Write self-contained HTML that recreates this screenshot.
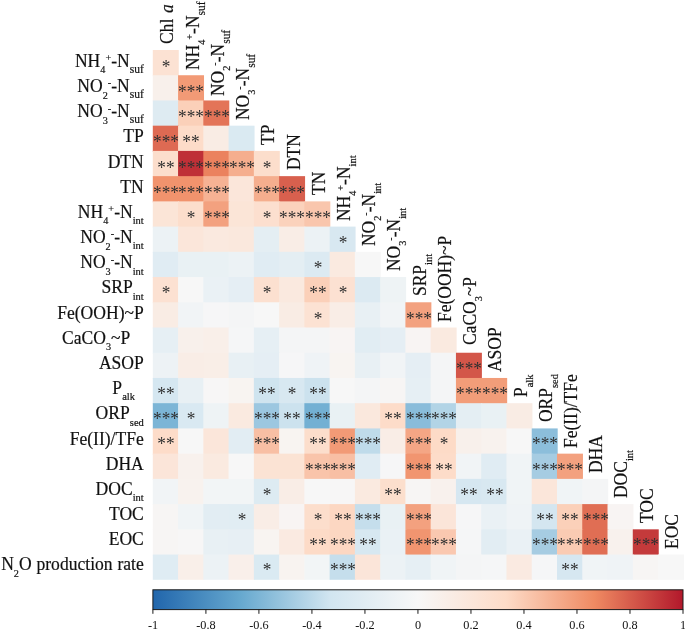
<!DOCTYPE html>
<html><head><meta charset="utf-8"><title>Correlation heatmap</title>
<style>
html,body{margin:0;padding:0;background:#fff;}
#fig{position:relative;width:685px;height:630px;overflow:hidden;background:#fff;font-family:"Liberation Serif",serif;color:#111;}
.c{position:absolute;}
.s{position:absolute;text-align:center;font-size:19.8px;line-height:0;white-space:nowrap;color:#303030;transform:scaleX(0.875);}
.l,.t{-webkit-text-stroke:0.2px #111;}
.l{position:absolute;white-space:nowrap;font-size:18.9px;line-height:0;text-align:right;transform-origin:100% 0;transform:scaleX(0.93);}
.t{position:absolute;white-space:nowrap;font-size:18.9px;line-height:0;transform-origin:0 0;transform:rotate(-90deg) scaleX(0.925);}
sub,sup{font-size:12.4px;line-height:0;position:relative;vertical-align:baseline;}
sub{top:6.2px;}
sub.d{font-size:11px;top:6.4px;}
sub.e{font-size:11.3px;}
sup{top:-5.7px;font-size:11px;}
.k{position:absolute;font-size:13.2px;line-height:0;white-space:nowrap;transform:translateX(-50%) scaleX(0.93);}
.tk{position:absolute;width:1px;background:#111;}
</style></head><body><div id="fig">

<svg class="c" style="left:0;top:0" width="685" height="630" viewBox="0 0 685 630">
<rect x="152.80" y="50.00" width="25.96" height="26.23" fill="#fce2d3"/>
<rect x="152.80" y="75.23" width="26.26" height="26.23" fill="#f8f0eb"/>
<rect x="178.06" y="75.23" width="25.96" height="26.23" fill="#f29a76"/>
<rect x="152.80" y="100.46" width="26.26" height="26.23" fill="#deebf2"/>
<rect x="178.06" y="100.46" width="26.26" height="26.23" fill="#fbd0b9"/>
<rect x="203.32" y="100.46" width="25.96" height="26.23" fill="#e37458"/>
<rect x="152.80" y="125.68" width="26.26" height="26.23" fill="#de6a53"/>
<rect x="178.06" y="125.68" width="26.26" height="26.23" fill="#fddcc9"/>
<rect x="203.32" y="125.68" width="26.26" height="26.23" fill="#f9ece4"/>
<rect x="228.59" y="125.68" width="25.96" height="26.23" fill="#daeaf2"/>
<rect x="152.80" y="150.91" width="26.26" height="26.23" fill="#fcdecc"/>
<rect x="178.06" y="150.91" width="26.26" height="26.23" fill="#bf3037"/>
<rect x="203.32" y="150.91" width="26.26" height="26.23" fill="#eb825e"/>
<rect x="228.59" y="150.91" width="26.26" height="26.23" fill="#f5ae8e"/>
<rect x="253.85" y="150.91" width="25.96" height="26.23" fill="#fcdecc"/>
<rect x="152.80" y="176.14" width="26.26" height="26.23" fill="#f1936d"/>
<rect x="178.06" y="176.14" width="26.26" height="26.23" fill="#f1936d"/>
<rect x="203.32" y="176.14" width="26.26" height="26.23" fill="#f6b294"/>
<rect x="228.59" y="176.14" width="26.26" height="26.23" fill="#fbe6da"/>
<rect x="253.85" y="176.14" width="26.26" height="26.23" fill="#f5ae8e"/>
<rect x="279.11" y="176.14" width="25.96" height="26.23" fill="#d8604e"/>
<rect x="152.80" y="201.37" width="26.26" height="26.23" fill="#fbe5d7"/>
<rect x="178.06" y="201.37" width="26.26" height="26.23" fill="#fcdecc"/>
<rect x="203.32" y="201.37" width="26.26" height="26.23" fill="#f3a17f"/>
<rect x="228.59" y="201.37" width="26.26" height="26.23" fill="#fbe5d7"/>
<rect x="253.85" y="201.37" width="26.26" height="26.23" fill="#fcdfcf"/>
<rect x="279.11" y="201.37" width="26.26" height="26.23" fill="#fbd2bc"/>
<rect x="304.37" y="201.37" width="25.96" height="26.23" fill="#f9c6ad"/>
<rect x="152.80" y="226.60" width="26.26" height="26.23" fill="#ecf2f5"/>
<rect x="178.06" y="226.60" width="26.26" height="26.23" fill="#fbe6da"/>
<rect x="203.32" y="226.60" width="26.26" height="26.23" fill="#fae9df"/>
<rect x="228.59" y="226.60" width="26.26" height="26.23" fill="#fae8dd"/>
<rect x="253.85" y="226.60" width="26.26" height="26.23" fill="#e4eef3"/>
<rect x="279.11" y="226.60" width="26.26" height="26.23" fill="#f9ede6"/>
<rect x="304.37" y="226.60" width="26.26" height="26.23" fill="#ecf2f5"/>
<rect x="329.63" y="226.60" width="25.96" height="26.23" fill="#d8e8f1"/>
<rect x="152.80" y="251.82" width="26.26" height="26.23" fill="#e0ecf3"/>
<rect x="178.06" y="251.82" width="26.26" height="26.23" fill="#e9f1f4"/>
<rect x="203.32" y="251.82" width="26.26" height="26.23" fill="#e9f1f4"/>
<rect x="228.59" y="251.82" width="26.26" height="26.23" fill="#ecf2f5"/>
<rect x="253.85" y="251.82" width="26.26" height="26.23" fill="#e0ecf3"/>
<rect x="279.11" y="251.82" width="26.26" height="26.23" fill="#e4eef3"/>
<rect x="304.37" y="251.82" width="26.26" height="26.23" fill="#dceaf2"/>
<rect x="329.63" y="251.82" width="26.26" height="26.23" fill="#faeae0"/>
<rect x="354.90" y="251.82" width="25.96" height="26.23" fill="#f7f7f7"/>
<rect x="152.80" y="277.05" width="26.26" height="26.23" fill="#fce1d2"/>
<rect x="178.06" y="277.05" width="26.26" height="26.23" fill="#f7f7f7"/>
<rect x="203.32" y="277.05" width="26.26" height="26.23" fill="#eaf1f5"/>
<rect x="228.59" y="277.05" width="26.26" height="26.23" fill="#e5eef4"/>
<rect x="253.85" y="277.05" width="26.26" height="26.23" fill="#fce0d0"/>
<rect x="279.11" y="277.05" width="26.26" height="26.23" fill="#fae9df"/>
<rect x="304.37" y="277.05" width="26.26" height="26.23" fill="#fbd0b9"/>
<rect x="329.63" y="277.05" width="26.26" height="26.23" fill="#fce1d2"/>
<rect x="354.90" y="277.05" width="26.26" height="26.23" fill="#dceaf2"/>
<rect x="380.16" y="277.05" width="25.96" height="26.23" fill="#eef3f5"/>
<rect x="152.80" y="302.28" width="26.26" height="26.23" fill="#f9ece4"/>
<rect x="178.06" y="302.28" width="26.26" height="26.23" fill="#f1f4f6"/>
<rect x="203.32" y="302.28" width="26.26" height="26.23" fill="#f6f6f7"/>
<rect x="228.59" y="302.28" width="26.26" height="26.23" fill="#f4f5f6"/>
<rect x="253.85" y="302.28" width="26.26" height="26.23" fill="#f7f7f7"/>
<rect x="279.11" y="302.28" width="26.26" height="26.23" fill="#f9ece4"/>
<rect x="304.37" y="302.28" width="26.26" height="26.23" fill="#fce2d3"/>
<rect x="329.63" y="302.28" width="26.26" height="26.23" fill="#f9ede6"/>
<rect x="354.90" y="302.28" width="26.26" height="26.23" fill="#e8f0f4"/>
<rect x="380.16" y="302.28" width="26.26" height="26.23" fill="#f1f4f6"/>
<rect x="405.42" y="302.28" width="25.96" height="26.23" fill="#f3a17f"/>
<rect x="152.80" y="327.51" width="26.26" height="26.23" fill="#e6eff4"/>
<rect x="178.06" y="327.51" width="26.26" height="26.23" fill="#f8f0eb"/>
<rect x="203.32" y="327.51" width="26.26" height="26.23" fill="#f9efe9"/>
<rect x="228.59" y="327.51" width="26.26" height="26.23" fill="#f5f6f7"/>
<rect x="253.85" y="327.51" width="26.26" height="26.23" fill="#e6eff4"/>
<rect x="279.11" y="327.51" width="26.26" height="26.23" fill="#f4f5f6"/>
<rect x="304.37" y="327.51" width="26.26" height="26.23" fill="#f4f5f6"/>
<rect x="329.63" y="327.51" width="26.26" height="26.23" fill="#f8f4f3"/>
<rect x="354.90" y="327.51" width="26.26" height="26.23" fill="#e1edf3"/>
<rect x="380.16" y="327.51" width="26.26" height="26.23" fill="#e5eef4"/>
<rect x="405.42" y="327.51" width="26.26" height="26.23" fill="#f8f4f3"/>
<rect x="430.68" y="327.51" width="25.96" height="26.23" fill="#faeae0"/>
<rect x="152.80" y="352.74" width="26.26" height="26.23" fill="#edf2f5"/>
<rect x="178.06" y="352.74" width="26.26" height="26.23" fill="#f9ede6"/>
<rect x="203.32" y="352.74" width="26.26" height="26.23" fill="#f9eee7"/>
<rect x="228.59" y="352.74" width="26.26" height="26.23" fill="#e8f0f4"/>
<rect x="253.85" y="352.74" width="26.26" height="26.23" fill="#e5eef4"/>
<rect x="279.11" y="352.74" width="26.26" height="26.23" fill="#f6f6f7"/>
<rect x="304.37" y="352.74" width="26.26" height="26.23" fill="#eff3f6"/>
<rect x="329.63" y="352.74" width="26.26" height="26.23" fill="#f8f4f1"/>
<rect x="354.90" y="352.74" width="26.26" height="26.23" fill="#e8f0f4"/>
<rect x="380.16" y="352.74" width="26.26" height="26.23" fill="#f1f4f6"/>
<rect x="405.42" y="352.74" width="26.26" height="26.23" fill="#e5eef4"/>
<rect x="430.68" y="352.74" width="26.26" height="26.23" fill="#f4f5f6"/>
<rect x="455.94" y="352.74" width="25.96" height="26.23" fill="#d35649"/>
<rect x="152.80" y="377.96" width="26.26" height="26.23" fill="#d5e7f1"/>
<rect x="178.06" y="377.96" width="26.26" height="26.23" fill="#e8f0f4"/>
<rect x="203.32" y="377.96" width="26.26" height="26.23" fill="#f7f6f6"/>
<rect x="228.59" y="377.96" width="26.26" height="26.23" fill="#f8f4f1"/>
<rect x="253.85" y="377.96" width="26.26" height="26.23" fill="#cfe4ef"/>
<rect x="279.11" y="377.96" width="26.26" height="26.23" fill="#d8e8f1"/>
<rect x="304.37" y="377.96" width="26.26" height="26.23" fill="#cce2ee"/>
<rect x="329.63" y="377.96" width="26.26" height="26.23" fill="#f7f7f7"/>
<rect x="354.90" y="377.96" width="26.26" height="26.23" fill="#f4f5f6"/>
<rect x="380.16" y="377.96" width="26.26" height="26.23" fill="#f7f5f4"/>
<rect x="405.42" y="377.96" width="26.26" height="26.23" fill="#e6eff4"/>
<rect x="430.68" y="377.96" width="26.26" height="26.23" fill="#f4f5f6"/>
<rect x="455.94" y="377.96" width="26.26" height="26.23" fill="#f29d79"/>
<rect x="481.21" y="377.96" width="25.96" height="26.23" fill="#f29d79"/>
<rect x="152.80" y="403.19" width="26.26" height="26.23" fill="#7cb5d6"/>
<rect x="178.06" y="403.19" width="26.26" height="26.23" fill="#d9e9f2"/>
<rect x="203.32" y="403.19" width="26.26" height="26.23" fill="#eef3f5"/>
<rect x="228.59" y="403.19" width="26.26" height="26.23" fill="#faeae0"/>
<rect x="253.85" y="403.19" width="26.26" height="26.23" fill="#9cc7e0"/>
<rect x="279.11" y="403.19" width="26.26" height="26.23" fill="#cce2ee"/>
<rect x="304.37" y="403.19" width="26.26" height="26.23" fill="#73b0d3"/>
<rect x="329.63" y="403.19" width="26.26" height="26.23" fill="#e9f1f4"/>
<rect x="354.90" y="403.19" width="26.26" height="26.23" fill="#fae8dd"/>
<rect x="380.16" y="403.19" width="26.26" height="26.23" fill="#fddcc9"/>
<rect x="405.42" y="403.19" width="26.26" height="26.23" fill="#89bcda"/>
<rect x="430.68" y="403.19" width="26.26" height="26.23" fill="#b2d4e6"/>
<rect x="455.94" y="403.19" width="26.26" height="26.23" fill="#e4eef3"/>
<rect x="481.21" y="403.19" width="26.26" height="26.23" fill="#e9f1f4"/>
<rect x="506.47" y="403.19" width="25.96" height="26.23" fill="#f9ece4"/>
<rect x="152.80" y="428.42" width="26.26" height="26.23" fill="#fddcc9"/>
<rect x="178.06" y="428.42" width="26.26" height="26.23" fill="#f7f7f7"/>
<rect x="203.32" y="428.42" width="26.26" height="26.23" fill="#fbe6da"/>
<rect x="228.59" y="428.42" width="26.26" height="26.23" fill="#e2edf3"/>
<rect x="253.85" y="428.42" width="26.26" height="26.23" fill="#f8bfa4"/>
<rect x="279.11" y="428.42" width="26.26" height="26.23" fill="#f8f4f1"/>
<rect x="304.37" y="428.42" width="26.26" height="26.23" fill="#fcdecc"/>
<rect x="329.63" y="428.42" width="26.26" height="26.23" fill="#f29a76"/>
<rect x="354.90" y="428.42" width="26.26" height="26.23" fill="#bfdbea"/>
<rect x="380.16" y="428.42" width="26.26" height="26.23" fill="#f9ede6"/>
<rect x="405.42" y="428.42" width="26.26" height="26.23" fill="#f4a685"/>
<rect x="430.68" y="428.42" width="26.26" height="26.23" fill="#fddbc7"/>
<rect x="455.94" y="428.42" width="26.26" height="26.23" fill="#f8f0eb"/>
<rect x="481.21" y="428.42" width="26.26" height="26.23" fill="#f8f2ee"/>
<rect x="506.47" y="428.42" width="26.26" height="26.23" fill="#f7f7f7"/>
<rect x="531.73" y="428.42" width="25.96" height="26.23" fill="#8cbedb"/>
<rect x="152.80" y="453.65" width="26.26" height="26.23" fill="#fbe5d9"/>
<rect x="178.06" y="453.65" width="26.26" height="26.23" fill="#f8f1ed"/>
<rect x="203.32" y="453.65" width="26.26" height="26.23" fill="#faeae0"/>
<rect x="228.59" y="453.65" width="26.26" height="26.23" fill="#f7f7f7"/>
<rect x="253.85" y="453.65" width="26.26" height="26.23" fill="#fbe3d4"/>
<rect x="279.11" y="453.65" width="26.26" height="26.23" fill="#fbe3d4"/>
<rect x="304.37" y="453.65" width="26.26" height="26.23" fill="#f9c4aa"/>
<rect x="329.63" y="453.65" width="26.26" height="26.23" fill="#f8bfa4"/>
<rect x="354.90" y="453.65" width="26.26" height="26.23" fill="#e0ecf3"/>
<rect x="380.16" y="453.65" width="26.26" height="26.23" fill="#f6f6f7"/>
<rect x="405.42" y="453.65" width="26.26" height="26.23" fill="#f19570"/>
<rect x="430.68" y="453.65" width="26.26" height="26.23" fill="#fddcc9"/>
<rect x="455.94" y="453.65" width="26.26" height="26.23" fill="#f1f4f6"/>
<rect x="481.21" y="453.65" width="26.26" height="26.23" fill="#e0ecf3"/>
<rect x="506.47" y="453.65" width="26.26" height="26.23" fill="#f0f4f6"/>
<rect x="531.73" y="453.65" width="26.26" height="26.23" fill="#a6cce2"/>
<rect x="556.99" y="453.65" width="25.96" height="26.23" fill="#f3a17f"/>
<rect x="152.80" y="478.88" width="26.26" height="26.23" fill="#f1f4f6"/>
<rect x="178.06" y="478.88" width="26.26" height="26.23" fill="#f8f2ee"/>
<rect x="203.32" y="478.88" width="26.26" height="26.23" fill="#f2f5f6"/>
<rect x="228.59" y="478.88" width="26.26" height="26.23" fill="#f2f5f6"/>
<rect x="253.85" y="478.88" width="26.26" height="26.23" fill="#ddebf2"/>
<rect x="279.11" y="478.88" width="26.26" height="26.23" fill="#f9ede6"/>
<rect x="304.37" y="478.88" width="26.26" height="26.23" fill="#f7f7f7"/>
<rect x="329.63" y="478.88" width="26.26" height="26.23" fill="#f7f6f6"/>
<rect x="354.90" y="478.88" width="26.26" height="26.23" fill="#faeae0"/>
<rect x="380.16" y="478.88" width="26.26" height="26.23" fill="#fcdfcd"/>
<rect x="405.42" y="478.88" width="26.26" height="26.23" fill="#f7f5f4"/>
<rect x="430.68" y="478.88" width="26.26" height="26.23" fill="#f8f1ed"/>
<rect x="455.94" y="478.88" width="26.26" height="26.23" fill="#d6e7f1"/>
<rect x="481.21" y="478.88" width="26.26" height="26.23" fill="#d8e8f1"/>
<rect x="506.47" y="478.88" width="26.26" height="26.23" fill="#f0f4f6"/>
<rect x="531.73" y="478.88" width="26.26" height="26.23" fill="#fbe6da"/>
<rect x="556.99" y="478.88" width="26.26" height="26.23" fill="#f0f4f6"/>
<rect x="582.25" y="478.88" width="25.96" height="26.23" fill="#f4f5f6"/>
<rect x="152.80" y="504.10" width="26.26" height="26.23" fill="#f7f5f4"/>
<rect x="178.06" y="504.10" width="26.26" height="26.23" fill="#f0f4f6"/>
<rect x="203.32" y="504.10" width="26.26" height="26.23" fill="#e2edf3"/>
<rect x="228.59" y="504.10" width="26.26" height="26.23" fill="#e1edf3"/>
<rect x="253.85" y="504.10" width="26.26" height="26.23" fill="#f9ede6"/>
<rect x="279.11" y="504.10" width="26.26" height="26.23" fill="#f8f4f3"/>
<rect x="304.37" y="504.10" width="26.26" height="26.23" fill="#fcdecc"/>
<rect x="329.63" y="504.10" width="26.26" height="26.23" fill="#fcd7c2"/>
<rect x="354.90" y="504.10" width="26.26" height="26.23" fill="#c5deec"/>
<rect x="380.16" y="504.10" width="26.26" height="26.23" fill="#e9f1f4"/>
<rect x="405.42" y="504.10" width="26.26" height="26.23" fill="#f3a17f"/>
<rect x="430.68" y="504.10" width="26.26" height="26.23" fill="#fbe5d9"/>
<rect x="455.94" y="504.10" width="26.26" height="26.23" fill="#f6f6f7"/>
<rect x="481.21" y="504.10" width="26.26" height="26.23" fill="#eaf1f5"/>
<rect x="506.47" y="504.10" width="26.26" height="26.23" fill="#eff3f6"/>
<rect x="531.73" y="504.10" width="26.26" height="26.23" fill="#d4e6f0"/>
<rect x="556.99" y="504.10" width="26.26" height="26.23" fill="#fbd0b9"/>
<rect x="582.25" y="504.10" width="26.26" height="26.23" fill="#e06e54"/>
<rect x="607.52" y="504.10" width="25.96" height="26.23" fill="#f8f4f3"/>
<rect x="152.80" y="529.33" width="26.26" height="26.23" fill="#f7f5f4"/>
<rect x="178.06" y="529.33" width="26.26" height="26.23" fill="#f7f6f6"/>
<rect x="203.32" y="529.33" width="26.26" height="26.23" fill="#e8f0f4"/>
<rect x="228.59" y="529.33" width="26.26" height="26.23" fill="#e7eff4"/>
<rect x="253.85" y="529.33" width="26.26" height="26.23" fill="#f8f4f1"/>
<rect x="279.11" y="529.33" width="26.26" height="26.23" fill="#faeae1"/>
<rect x="304.37" y="529.33" width="26.26" height="26.23" fill="#fddbc7"/>
<rect x="329.63" y="529.33" width="26.26" height="26.23" fill="#fcd7c2"/>
<rect x="354.90" y="529.33" width="26.26" height="26.23" fill="#d7e8f1"/>
<rect x="380.16" y="529.33" width="26.26" height="26.23" fill="#eaf1f5"/>
<rect x="405.42" y="529.33" width="26.26" height="26.23" fill="#f19570"/>
<rect x="430.68" y="529.33" width="26.26" height="26.23" fill="#fac8b0"/>
<rect x="455.94" y="529.33" width="26.26" height="26.23" fill="#f5f6f7"/>
<rect x="481.21" y="529.33" width="26.26" height="26.23" fill="#e2edf3"/>
<rect x="506.47" y="529.33" width="26.26" height="26.23" fill="#eaf1f5"/>
<rect x="531.73" y="529.33" width="26.26" height="26.23" fill="#a6cce2"/>
<rect x="556.99" y="529.33" width="26.26" height="26.23" fill="#facbb3"/>
<rect x="582.25" y="529.33" width="26.26" height="26.23" fill="#e06e54"/>
<rect x="607.52" y="529.33" width="26.26" height="26.23" fill="#f8f1ed"/>
<rect x="632.78" y="529.33" width="25.96" height="26.23" fill="#c43a3b"/>
<rect x="152.80" y="554.56" width="26.26" height="25.23" fill="#dfecf3"/>
<rect x="178.06" y="554.56" width="26.26" height="25.23" fill="#f9efe9"/>
<rect x="203.32" y="554.56" width="26.26" height="25.23" fill="#ecf2f5"/>
<rect x="228.59" y="554.56" width="26.26" height="25.23" fill="#f9efea"/>
<rect x="253.85" y="554.56" width="26.26" height="25.23" fill="#daeaf2"/>
<rect x="279.11" y="554.56" width="26.26" height="25.23" fill="#f8f3f0"/>
<rect x="304.37" y="554.56" width="26.26" height="25.23" fill="#f2f5f6"/>
<rect x="329.63" y="554.56" width="26.26" height="25.23" fill="#c5deec"/>
<rect x="354.90" y="554.56" width="26.26" height="25.23" fill="#fbe5d9"/>
<rect x="380.16" y="554.56" width="26.26" height="25.23" fill="#ecf2f5"/>
<rect x="405.42" y="554.56" width="26.26" height="25.23" fill="#e6eff4"/>
<rect x="430.68" y="554.56" width="26.26" height="25.23" fill="#f0f4f6"/>
<rect x="455.94" y="554.56" width="26.26" height="25.23" fill="#f4f5f6"/>
<rect x="481.21" y="554.56" width="26.26" height="25.23" fill="#f5f6f7"/>
<rect x="506.47" y="554.56" width="26.26" height="25.23" fill="#faeae1"/>
<rect x="531.73" y="554.56" width="26.26" height="25.23" fill="#f5f6f7"/>
<rect x="556.99" y="554.56" width="26.26" height="25.23" fill="#d6e7f1"/>
<rect x="582.25" y="554.56" width="26.26" height="25.23" fill="#f0f4f6"/>
<rect x="607.52" y="554.56" width="26.26" height="25.23" fill="#eff3f6"/>
<rect x="632.78" y="554.56" width="26.26" height="25.23" fill="#f7f5f4"/>
<rect x="658.04" y="554.56" width="25.96" height="25.23" fill="#f7f7f7"/>
<defs><linearGradient id="g" x1="0" x2="1" y1="0" y2="0"><stop offset="0.0000" stop-color="#2166ac"/><stop offset="0.1667" stop-color="#67a9cf"/><stop offset="0.3333" stop-color="#d1e5f0"/><stop offset="0.5000" stop-color="#f7f7f7"/><stop offset="0.6667" stop-color="#fddbc7"/><stop offset="0.8333" stop-color="#ef8a62"/><stop offset="1.0000" stop-color="#b2182b"/></linearGradient></defs>
<rect x="152.90" y="589.80" width="530.10" height="19.80" fill="url(#g)" stroke="#1a1a1a" stroke-width="1"/>
<line x1="152.90" x2="152.90" y1="609.60" y2="613.80" stroke="#1a1a1a" stroke-width="1"/>
<line x1="205.91" x2="205.91" y1="609.60" y2="613.80" stroke="#1a1a1a" stroke-width="1"/>
<line x1="258.92" x2="258.92" y1="609.60" y2="613.80" stroke="#1a1a1a" stroke-width="1"/>
<line x1="311.93" x2="311.93" y1="609.60" y2="613.80" stroke="#1a1a1a" stroke-width="1"/>
<line x1="364.94" x2="364.94" y1="609.60" y2="613.80" stroke="#1a1a1a" stroke-width="1"/>
<line x1="417.95" x2="417.95" y1="609.60" y2="613.80" stroke="#1a1a1a" stroke-width="1"/>
<line x1="470.96" x2="470.96" y1="609.60" y2="613.80" stroke="#1a1a1a" stroke-width="1"/>
<line x1="523.97" x2="523.97" y1="609.60" y2="613.80" stroke="#1a1a1a" stroke-width="1"/>
<line x1="576.98" x2="576.98" y1="609.60" y2="613.80" stroke="#1a1a1a" stroke-width="1"/>
<line x1="629.99" x2="629.99" y1="609.60" y2="613.80" stroke="#1a1a1a" stroke-width="1"/>
<line x1="683.00" x2="683.00" y1="609.60" y2="613.80" stroke="#1a1a1a" stroke-width="1"/>
</svg>
<div class="s" style="left:136.13px;top:65.88px;width:60px">*</div>
<div class="s" style="left:161.39px;top:91.05px;width:60px">***</div>
<div class="s" style="left:161.39px;top:116.23px;width:60px">***</div>
<div class="s" style="left:186.66px;top:116.23px;width:60px">***</div>
<div class="s" style="left:136.13px;top:141.40px;width:60px">***</div>
<div class="s" style="left:161.39px;top:141.40px;width:60px">**</div>
<div class="s" style="left:136.13px;top:166.57px;width:60px">**</div>
<div class="s" style="left:161.39px;top:166.57px;width:60px">***</div>
<div class="s" style="left:186.66px;top:166.57px;width:60px">***</div>
<div class="s" style="left:211.92px;top:166.57px;width:60px">***</div>
<div class="s" style="left:237.18px;top:166.57px;width:60px">*</div>
<div class="s" style="left:136.13px;top:191.75px;width:60px">***</div>
<div class="s" style="left:161.39px;top:191.75px;width:60px">***</div>
<div class="s" style="left:186.66px;top:191.75px;width:60px">***</div>
<div class="s" style="left:237.18px;top:191.75px;width:60px">***</div>
<div class="s" style="left:262.44px;top:191.75px;width:60px">***</div>
<div class="s" style="left:161.39px;top:216.92px;width:60px">*</div>
<div class="s" style="left:186.66px;top:216.92px;width:60px">***</div>
<div class="s" style="left:237.18px;top:216.92px;width:60px">*</div>
<div class="s" style="left:262.44px;top:216.92px;width:60px">***</div>
<div class="s" style="left:287.70px;top:216.92px;width:60px">***</div>
<div class="s" style="left:312.96px;top:242.09px;width:60px">*</div>
<div class="s" style="left:287.70px;top:267.27px;width:60px">*</div>
<div class="s" style="left:136.13px;top:292.44px;width:60px">*</div>
<div class="s" style="left:237.18px;top:292.44px;width:60px">*</div>
<div class="s" style="left:287.70px;top:292.44px;width:60px">**</div>
<div class="s" style="left:312.96px;top:292.44px;width:60px">*</div>
<div class="s" style="left:287.70px;top:317.61px;width:60px">*</div>
<div class="s" style="left:388.75px;top:317.61px;width:60px">***</div>
<div class="s" style="left:439.28px;top:367.96px;width:60px">***</div>
<div class="s" style="left:136.13px;top:393.13px;width:60px">**</div>
<div class="s" style="left:237.18px;top:393.13px;width:60px">**</div>
<div class="s" style="left:262.44px;top:393.13px;width:60px">*</div>
<div class="s" style="left:287.70px;top:393.13px;width:60px">**</div>
<div class="s" style="left:439.28px;top:393.13px;width:60px">***</div>
<div class="s" style="left:464.54px;top:393.13px;width:60px">***</div>
<div class="s" style="left:136.13px;top:418.30px;width:60px">***</div>
<div class="s" style="left:161.39px;top:418.30px;width:60px">*</div>
<div class="s" style="left:237.18px;top:418.30px;width:60px">***</div>
<div class="s" style="left:262.44px;top:418.30px;width:60px">**</div>
<div class="s" style="left:287.70px;top:418.30px;width:60px">***</div>
<div class="s" style="left:363.49px;top:418.30px;width:60px">**</div>
<div class="s" style="left:388.75px;top:418.30px;width:60px">***</div>
<div class="s" style="left:414.01px;top:418.30px;width:60px">***</div>
<div class="s" style="left:136.13px;top:443.48px;width:60px">**</div>
<div class="s" style="left:237.18px;top:443.48px;width:60px">***</div>
<div class="s" style="left:287.70px;top:443.48px;width:60px">**</div>
<div class="s" style="left:312.96px;top:443.48px;width:60px">***</div>
<div class="s" style="left:338.23px;top:443.48px;width:60px">***</div>
<div class="s" style="left:388.75px;top:443.48px;width:60px">***</div>
<div class="s" style="left:414.01px;top:443.48px;width:60px">*</div>
<div class="s" style="left:515.06px;top:443.48px;width:60px">***</div>
<div class="s" style="left:287.70px;top:468.65px;width:60px">***</div>
<div class="s" style="left:312.96px;top:468.65px;width:60px">***</div>
<div class="s" style="left:388.75px;top:468.65px;width:60px">***</div>
<div class="s" style="left:414.01px;top:468.65px;width:60px">**</div>
<div class="s" style="left:515.06px;top:468.65px;width:60px">***</div>
<div class="s" style="left:540.32px;top:468.65px;width:60px">***</div>
<div class="s" style="left:237.18px;top:493.82px;width:60px">*</div>
<div class="s" style="left:363.49px;top:493.82px;width:60px">**</div>
<div class="s" style="left:439.28px;top:493.82px;width:60px">**</div>
<div class="s" style="left:464.54px;top:493.82px;width:60px">**</div>
<div class="s" style="left:211.92px;top:519.00px;width:60px">*</div>
<div class="s" style="left:287.70px;top:519.00px;width:60px">*</div>
<div class="s" style="left:312.96px;top:519.00px;width:60px">**</div>
<div class="s" style="left:338.23px;top:519.00px;width:60px">***</div>
<div class="s" style="left:388.75px;top:519.00px;width:60px">***</div>
<div class="s" style="left:515.06px;top:519.00px;width:60px">**</div>
<div class="s" style="left:540.32px;top:519.00px;width:60px">**</div>
<div class="s" style="left:565.59px;top:519.00px;width:60px">***</div>
<div class="s" style="left:287.70px;top:544.17px;width:60px">**</div>
<div class="s" style="left:312.96px;top:544.17px;width:60px">***</div>
<div class="s" style="left:338.23px;top:544.17px;width:60px">**</div>
<div class="s" style="left:388.75px;top:544.17px;width:60px">***</div>
<div class="s" style="left:414.01px;top:544.17px;width:60px">***</div>
<div class="s" style="left:515.06px;top:544.17px;width:60px">***</div>
<div class="s" style="left:540.32px;top:544.17px;width:60px">***</div>
<div class="s" style="left:565.59px;top:544.17px;width:60px">***</div>
<div class="s" style="left:616.11px;top:544.17px;width:60px">***</div>
<div class="s" style="left:237.18px;top:569.34px;width:60px">*</div>
<div class="s" style="left:312.96px;top:569.34px;width:60px">***</div>
<div class="s" style="left:540.32px;top:569.34px;width:60px">**</div>
<div class="l" style="left:-200px;width:343.80px;top:60.94px">NH<sub class="d">4</sub><sup>+</sup>-N<sub>suf</sub></div>
<div class="l" style="left:-200px;width:343.80px;top:86.11px">NO<sub class="d">2</sub><sup>-</sup>-N<sub>suf</sub></div>
<div class="l" style="left:-200px;width:343.80px;top:111.28px">NO<sub class="d">3</sub><sup>-</sup>-N<sub>suf</sub></div>
<div class="l" style="left:-200px;width:343.80px;top:136.45px">TP</div>
<div class="l" style="left:-200px;width:343.80px;top:161.63px">DTN</div>
<div class="l" style="left:-200px;width:343.80px;top:186.80px">TN</div>
<div class="l" style="left:-200px;width:343.80px;top:211.97px">NH<sub class="d">4</sub><sup>+</sup>-N<sub class="e">int</sub></div>
<div class="l" style="left:-200px;width:343.80px;top:237.15px">NO<sub class="d">2</sub><sup>-</sup>-N<sub class="e">int</sub></div>
<div class="l" style="left:-200px;width:343.80px;top:262.32px">NO<sub class="d">3</sub><sup>-</sup>-N<sub class="e">int</sub></div>
<div class="l" style="left:-200px;width:343.80px;top:287.49px">SRP<sub class="e">int</sub></div>
<div class="l" style="left:-200px;width:343.80px;top:312.67px">Fe(OOH)~P</div>
<div class="l" style="left:-200px;width:330.30px;top:337.84px">CaCO<sub class="d">3</sub>~P</div>
<div class="l" style="left:-200px;width:343.80px;top:363.01px">ASOP</div>
<div class="l" style="left:-200px;width:335.00px;top:388.18px">P<sub class="e">alk</sub></div>
<div class="l" style="left:-200px;width:343.80px;top:413.36px">ORP<sub class="e">sed</sub></div>
<div class="l" style="left:-200px;width:343.80px;top:438.53px">Fe(II)/TFe</div>
<div class="l" style="left:-200px;width:343.80px;top:463.70px">DHA</div>
<div class="l" style="left:-200px;width:343.80px;top:488.88px">DOC<sub class="e">int</sub></div>
<div class="l" style="left:-200px;width:343.80px;top:514.05px">TOC</div>
<div class="l" style="left:-200px;width:343.80px;top:539.22px">EOC</div>
<div class="l" style="left:-200px;width:343.80px;top:564.40px"><span style="word-spacing:0.5px">N<sub class="d">2</sub>O production rate</span></div>
<div class="t" style="left:167.45px;top:43.50px"><span style="word-spacing:1.6px">Chl <i>a</i></span></div>
<div class="t" style="left:192.67px;top:70.33px">NH<sub class="d">4</sub><sup>+</sup>-N<sub>suf</sub></div>
<div class="t" style="left:217.90px;top:95.56px">NO<sub class="d">2</sub><sup>-</sup>-N<sub>suf</sub></div>
<div class="t" style="left:243.12px;top:119.68px">NO<sub class="d">3</sub><sup>-</sup>-N<sub>suf</sub></div>
<div class="t" style="left:268.34px;top:144.91px">TP</div>
<div class="t" style="left:293.56px;top:170.14px">DTN</div>
<div class="t" style="left:318.78px;top:195.37px">TN</div>
<div class="t" style="left:344.01px;top:220.60px">NH<sub class="d">4</sub><sup>+</sup>-N<sub class="e">int</sub></div>
<div class="t" style="left:369.23px;top:245.82px">NO<sub class="d">2</sub><sup>-</sup>-N<sub class="e">int</sub></div>
<div class="t" style="left:394.45px;top:271.05px">NO<sub class="d">3</sub><sup>-</sup>-N<sub class="e">int</sub></div>
<div class="t" style="left:419.67px;top:296.28px">SRP<sub class="e">int</sub></div>
<div class="t" style="left:444.89px;top:321.51px">Fe(OOH)~P</div>
<div class="t" style="left:470.12px;top:344.74px">CaCO<sub class="d">3</sub>~P</div>
<div class="t" style="left:495.34px;top:371.96px">ASOP</div>
<div class="t" style="left:520.56px;top:397.19px">P<sub class="e">alk</sub></div>
<div class="t" style="left:545.78px;top:422.42px">ORP<sub class="e">sed</sub></div>
<div class="t" style="left:571.00px;top:447.65px">Fe(II)/TFe</div>
<div class="t" style="left:596.23px;top:472.88px">DHA</div>
<div class="t" style="left:621.45px;top:498.10px">DOC<sub class="e">int</sub></div>
<div class="t" style="left:646.67px;top:523.33px">TOC</div>
<div class="t" style="left:671.89px;top:548.56px">EOC</div>
<div class="k" style="left:152.60px;top:624.9px">-1</div>
<div class="k" style="left:205.61px;top:624.9px">-0.8</div>
<div class="k" style="left:258.62px;top:624.9px">-0.6</div>
<div class="k" style="left:311.63px;top:624.9px">-0.4</div>
<div class="k" style="left:364.64px;top:624.9px">-0.2</div>
<div class="k" style="left:417.65px;top:624.9px">0</div>
<div class="k" style="left:470.66px;top:624.9px">0.2</div>
<div class="k" style="left:523.67px;top:624.9px">0.4</div>
<div class="k" style="left:576.68px;top:624.9px">0.6</div>
<div class="k" style="left:629.69px;top:624.9px">0.8</div>
<div class="k" style="left:682.70px;top:624.9px">1</div>
</div></body></html>
